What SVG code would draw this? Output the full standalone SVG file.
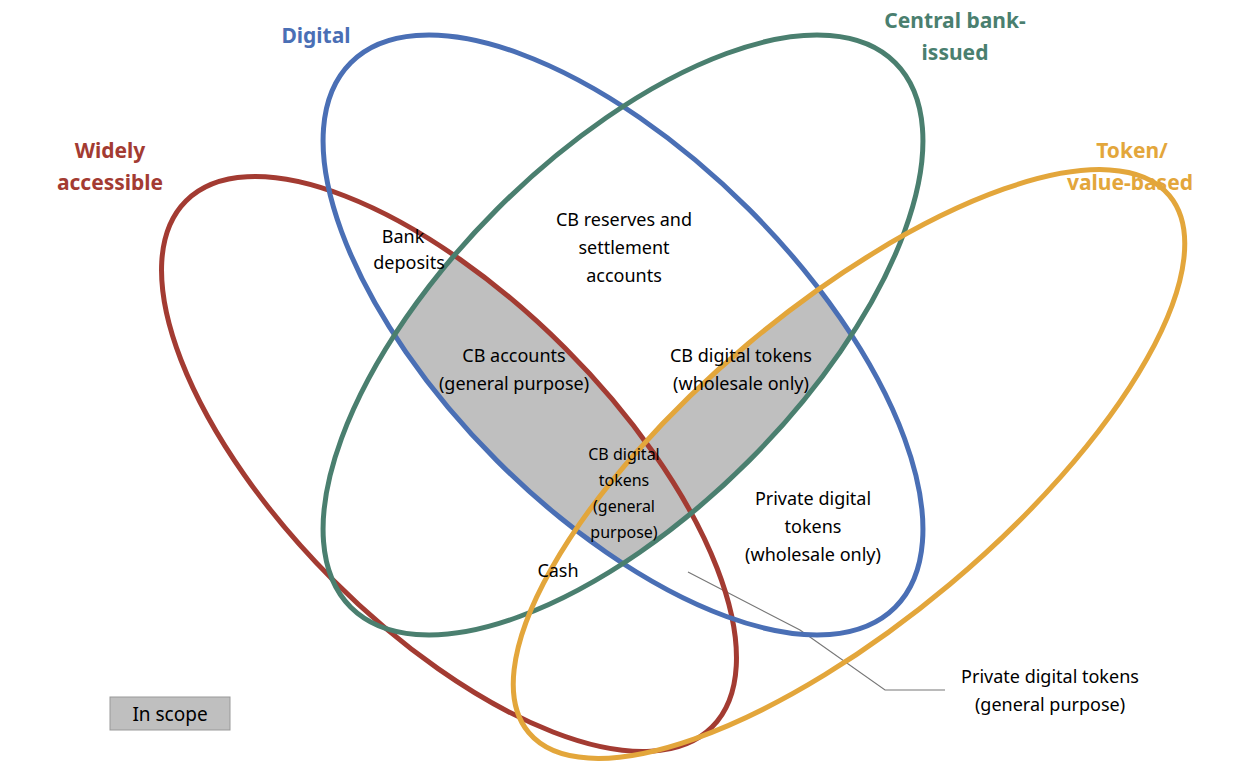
<svg xmlns="http://www.w3.org/2000/svg" width="1250" height="778" viewBox="0 0 1250 778">
<style>
.e{fill:none;stroke-width:5}
.t{font-family:"Noto Sans",sans-serif;font-size:18px;fill:#000;text-anchor:middle}
.h{font-family:"Noto Sans",sans-serif;font-size:21px;font-weight:bold;text-anchor:middle}
</style>
<defs>
<clipPath id="cb"><ellipse cx="0" cy="0" rx="385" ry="178" transform="translate(623,335) rotate(45)"/></clipPath>
<clipPath id="cg"><ellipse cx="0" cy="0" rx="385" ry="178" transform="translate(623,335) rotate(-45)"/></clipPath>
</defs>
<rect width="1250" height="778" fill="#fff"/>
<g id="scope" clip-path="url(#cb)"><g clip-path="url(#cg)">
<ellipse cx="0" cy="0" rx="372" ry="164" transform="translate(449,464) rotate(45)" fill="#bfbfbf"/>
<ellipse cx="0" cy="0" rx="418" ry="157" transform="translate(849,464) rotate(-40)" fill="#bfbfbf"/>
</g></g>
<g id="connectors">
<polyline points="688,572 800,630 885,690 945,690" fill="none" stroke="#777" stroke-width="1.2"/>
</g>
<g id="widely"><ellipse class="e" stroke="#a33b32" cx="0" cy="0" rx="372" ry="164" transform="translate(449,464) rotate(45)"/>
<text class="h" fill="#a33b32" x="110" y="158">Widely</text><text class="h" fill="#a33b32" x="110" y="190">accessible</text></g>
<g id="digital"><ellipse class="e" stroke="#4a6fb5" cx="0" cy="0" rx="385" ry="178" transform="translate(623,335) rotate(45)"/>
<text class="h" fill="#4a6fb5" x="316" y="43">Digital</text></g>
<g id="central"><ellipse class="e" stroke="#4a7f6f" cx="0" cy="0" rx="385" ry="178" transform="translate(623,335) rotate(-45)"/>
<text class="h" fill="#4a7f6f" x="955" y="28">Central bank-</text><text class="h" fill="#4a7f6f" x="955" y="60">issued</text></g>
<g id="token"><ellipse class="e" stroke="#e3a63b" cx="0" cy="0" rx="418" ry="157" transform="translate(849,464) rotate(-40)"/>
<text class="h" fill="#e3a63b" x="1132" y="158">Token/</text><text class="h" fill="#e3a63b" x="1130" y="190">value-based</text></g>
<g id="bank"><text class="t" x="403" y="243">Bank</text><text class="t" x="409" y="269">deposits</text></g>
<g id="reserves"><text class="t" x="624" y="226">CB reserves and</text><text class="t" x="624" y="254">settlement</text><text class="t" x="624" y="282">accounts</text></g>
<g id="cbacc"><text class="t" x="514" y="362">CB accounts</text><text class="t" x="514" y="390">(general purpose)</text></g>
<g id="cbdtw"><text class="t" x="741" y="362">CB digital tokens</text><text class="t" x="741" y="390">(wholesale only)</text></g>
<g id="cbdtg"><text class="t" x="624" y="460" style="font-size:16px">CB digital</text><text class="t" x="624" y="486" style="font-size:16px">tokens</text><text class="t" x="624" y="512" style="font-size:16px">(general</text><text class="t" x="624" y="538" style="font-size:16px">purpose)</text></g>
<g id="pdtw"><text class="t" x="813" y="505">Private digital</text><text class="t" x="813" y="533">tokens</text><text class="t" x="813" y="561">(wholesale only)</text></g>
<g id="cash"><text class="t" x="558" y="577">Cash</text></g>
<g id="pdtg"><text class="t" x="1050" y="683">Private digital tokens</text><text class="t" x="1050" y="711">(general purpose)</text></g>
<g id="legend"><rect x="110" y="697" width="120" height="33" fill="#bfbfbf" stroke="#999" stroke-width="1"/><text class="t" x="170" y="721" style="font-size:19px">In scope</text></g>
</svg>
